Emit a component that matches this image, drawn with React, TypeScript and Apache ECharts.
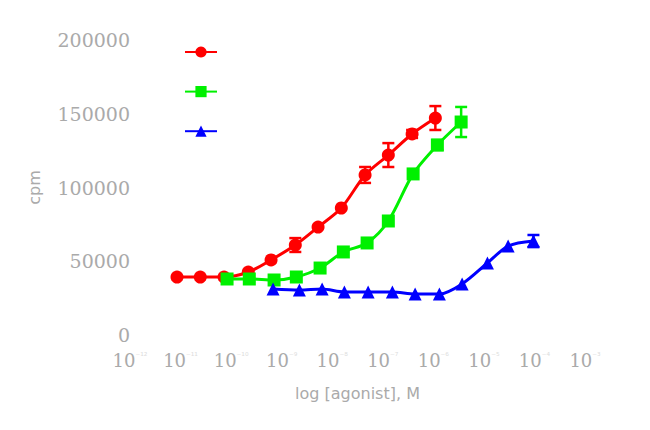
import React, { useEffect, useRef } from "react";
import * as echarts from "echarts";

// log concentration (M) and response (cpm)
const redX = [-11.07, -10.61, -10.14, -9.66, -9.21, -8.73, -8.28, -7.82, -7.35, -6.89, -6.42, -5.96];
const redY = [39300, 39300, 39300, 42700, 50900, 61000, 73200, 86100, 108500, 122000, 136300, 147100];
const redErr = [0, 0, 0, 0, 0, 4700, 0, 0, 5400, 8100, 2700, 8100];

const greenX = [-10.08, -9.64, -9.15, -8.71, -8.24, -7.78, -7.31, -6.89, -6.4, -5.92, -5.45];
const greenY = [37970, 37970, 37290, 39320, 45400, 56300, 62400, 77300, 109200, 128800, 144400];
const greenErr = [0, 0, 0, 0, 0, 0, 0, 0, 0, 3400, 10200];

const blueX = [-9.17, -8.65, -8.2, -7.76, -7.29, -6.81, -6.36, -5.88, -5.43, -4.93, -4.52, -4.02];
const blueY = [31200, 30500, 31200, 29200, 29200, 29200, 27800, 27800, 34600, 48800, 60300, 63700];
const blueErr = [0, 0, 0, 0, 0, 0, 0, 0, 0, 0, 0, 4100];

const seriesNames = ["Series 1", "Series 2", "Series 3"];
const xTicks = [-12, -11, -10, -9, -8, -7, -6, -5, -4, -3];
const yTicks = [0, 50000, 100000, 150000, 200000];

const TEXT = "#aaaaaa";

function pts(xs: number[], ys: number[]) {
  return xs.map((x, i) => [x, ys[i]]);
}
function errData(xs: number[], ys: number[], es: number[]) {
  return xs
    .map((x, i) => [x, ys[i] - es[i], ys[i] + es[i]])
    .filter((_, i) => es[i] > 0);
}

function errSeries(data: number[][], color: string) {
  return {
    type: "custom",
    data,
    z: 3,
    silent: true,
    renderItem: (params: any, api: any) => {
      const x = api.value(0);
      const lo = api.coord([x, api.value(1)]);
      const hi = api.coord([x, api.value(2)]);
      const w = 6;
      const st = { stroke: color, lineWidth: 2.5 };
      return {
        type: "group",
        children: [
          { type: "line", shape: { x1: lo[0], y1: lo[1], x2: hi[0], y2: hi[1] }, style: st },
          { type: "line", shape: { x1: lo[0] - w, y1: lo[1], x2: lo[0] + w, y2: lo[1] }, style: st },
          { type: "line", shape: { x1: hi[0] - w, y1: hi[1], x2: hi[0] + w, y2: hi[1] }, style: st },
        ],
      };
    },
  };
}

function lineSeries(name: string, data: number[][], color: string, symbol: string, size: number) {
  return {
    name,
    type: "line",
    data,
    smooth: 0.3,
    symbol,
    symbolSize: size,
    z: 4,
    itemStyle: { color },
    lineStyle: { color, width: 3 },
  };
}

export default function App() {
  const ref = useRef<HTMLDivElement>(null);
  useEffect(() => {
    if (!ref.current) return;
    const chart = echarts.init(ref.current, undefined, { renderer: "svg" });
    const supMap: Record<string, string> = { "-": "⁻", "0": "⁰", "1": "¹", "2": "²", "3": "³", "4": "⁴", "5": "⁵", "6": "⁶", "7": "⁷", "8": "⁸", "9": "⁹" };
    chart.setOption({
      animation: false,
      backgroundColor: "#ffffff",
      grid: { left: 130, right: 65, top: 40, bottom: 95, containLabel: false },
      legend: {
        orient: "vertical",
        left: 179,
        top: 40,
        itemGap: 27,
        itemWidth: 32,
        itemHeight: 14,
        formatter: () => "",
        data: seriesNames,
      },
      xAxis: {
        type: "value",
        min: -12,
        max: -3,
        interval: 1,
        name: "log [agonist], M",
        nameLocation: "middle",
        nameGap: 50,
        nameTextStyle: { color: TEXT, fontSize: 16, fontFamily: "DejaVu Sans" },
        axisLine: { show: false },
        axisTick: { show: false },
        splitLine: { show: false },
        axisLabel: {
          margin: 16,
          formatter: (v: number) => {
            if (!xTicks.includes(v)) return "";
            const sup = String(v).split("").map((c) => supMap[c] || c).join("");
            return "{b|10}{s|" + sup + "}";
          },
          rich: {
            b: { color: TEXT, fontSize: 18, fontFamily: "DejaVu Serif" },
            s: { color: "#dddddd", fontSize: 9, fontFamily: "DejaVu Sans", verticalAlign: "top", padding: [0, 0, 10, 0] },
          },
        },
      },
      yAxis: {
        type: "value",
        min: 0,
        max: 200000,
        interval: 50000,
        name: "cpm",
        nameLocation: "middle",
        nameGap: 88,
        nameRotate: 90,
        nameTextStyle: { color: TEXT, fontSize: 16, fontFamily: "DejaVu Sans" },
        axisLine: { show: false },
        axisTick: { show: false },
        splitLine: { show: false },
        axisLabel: {
          margin: 0,
          color: TEXT,
          fontSize: 19,
          fontFamily: "DejaVu Serif",
          formatter: (v: number) => (yTicks.includes(v) ? String(v) : ""),
        },
      },
      series: [
        lineSeries(seriesNames[0], pts(redX, redY), "#ff0000", "circle", 13),
        lineSeries(seriesNames[1], pts(greenX, greenY), "#00f000", "rect", 13),
        lineSeries(seriesNames[2], pts(blueX, blueY), "#0000ff", "triangle", 13),
        errSeries(errData(redX, redY, redErr), "#ff0000"),
        errSeries(errData(greenX, greenY, greenErr), "#00f000"),
        errSeries(errData(blueX, blueY, blueErr), "#0000ff"),
      ],
    });
    return () => chart.dispose();
  }, []);
  return (
    <div
      ref={ref}
      style={{ position: "fixed", left: 0, top: 0, width: 650, height: 430 }}
    />
  );
}
